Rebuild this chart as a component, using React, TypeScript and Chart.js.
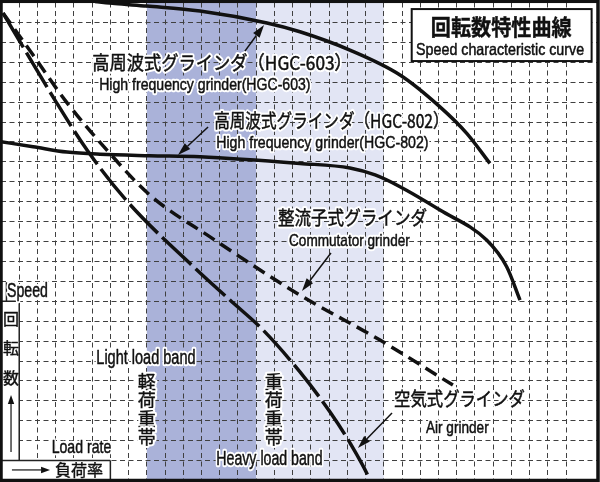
import { useEffect, useRef } from "react";
import { Chart, registerables } from "chart.js";

Chart.register(...registerables);

// ---- data (x: load rate in grid units, y: speed in grid units) ----
const hgc603X = [5.16, 6.25, 8.01, 10.92, 14.59, 16.4, 19.14, 21.89, 24.08, 25.55, 26.82];
const hgc603Y = [24.05, 23.95, 23.82, 23.57, 22.97, 22.53, 21.61, 20.36, 18.76, 17.43, 15.92];

const hgc802X = [0, 1.76, 3.62, 5.43, 8.17, 10.92, 16.4, 19.14, 20.52, 21.89, 24.08, 26.64, 27.74, 28.47];
const hgc802Y = [17.01, 16.76, 16.49, 16.38, 16.31, 16.26, 15.92, 15.69, 15.34, 14.75, 13.58, 12.07, 10.73, 9.06];

const commX = [0.11, 1.76, 3.51, 5.81, 8.17, 11.57, 16.4, 20.79, 24.79];
const commY = [23.47, 21.36, 19.1, 16.59, 14.33, 12.17, 9.31, 7.05, 4.79];

const airX = [0.11, 2.96, 4.72, 6.86, 10.75, 12.56, 14.37, 16.4, 18.05, 19.15, 20.24, 20.46];
const airY = [23.47, 19.1, 16.59, 14.08, 10.57, 9.06, 7.56, 5.45, 3.44, 1.88, 0.03, -0.48];

const lightLoadBand = [8, 14];
const heavyLoadBand = [14, 21];

const xMax = 32.75;
const yMax = 24;

const JP = '"Noto Sans CJK JP", sans-serif';
const EN = '"Liberation Sans", Arial, sans-serif';

type Label = {
  t: string;
  x0: number;
  x1: number;
  y: number;
  font: string;
  base: CanvasTextBaseline;
  halo: boolean;
  bold: number;
};

const labels: Label[] = [
  { t: "回転数特性曲線", x0: 23.63, x1: 31.31, y: 22.78, font: `bold 22px ${JP}`, base: "middle", halo: false, bold: 0.4 },
  { t: "Speed characteristic curve", x0: 22.77, x1: 31.98, y: 21.36, font: `16.5px ${EN}`, base: "alphabetic", halo: false, bold: 0.5 },
  { t: "高周波式グラインダ（HGC-603）", x0: 5.05, x1: 18.6, y: 20.98, font: `19px ${JP}`, base: "middle", halo: true, bold: 0.5 },
  { t: "High frequency grinder(HGC-603)", x0: 5.43, x1: 16.95, y: 19.6, font: `17px ${EN}`, base: "alphabetic", halo: true, bold: 0.5 },
  { t: "高周波式グラインダ（HGC-802）", x0: 11.74, x1: 23.97, y: 18.05, font: `19px ${JP}`, base: "middle", halo: true, bold: 0.5 },
  { t: "High frequency grinder(HGC-802)", x0: 11.85, x1: 23.42, y: 16.69, font: `17px ${EN}`, base: "alphabetic", halo: true, bold: 0.5 },
  { t: "整流子式グラインダ", x0: 15.19, x1: 23.37, y: 13.2, font: `19px ${JP}`, base: "middle", halo: true, bold: 0.5 },
  { t: "Commutator grinder", x0: 15.8, x1: 22.44, y: 11.75, font: `17px ${EN}`, base: "alphabetic", halo: true, bold: 0.5 },
  { t: "空気式グラインダ", x0: 21.61, x1: 28.74, y: 4.09, font: `19px ${JP}`, base: "middle", halo: true, bold: 0.5 },
  { t: "Air grinder", x0: 23.31, x1: 26.77, y: 2.37, font: `17px ${EN}`, base: "alphabetic", halo: true, bold: 0.5 },
  { t: "Light load band", x0: 5.27, x1: 10.64, y: 5.85, font: `19.5px ${EN}`, base: "alphabetic", halo: true, bold: 0.5 },
  { t: "Heavy load band", x0: 11.85, x1: 17.61, y: 0.78, font: `19.5px ${EN}`, base: "alphabetic", halo: true, bold: 0.5 },
  { t: "Speed", x0: 0.33, x1: 2.54, y: 9.2, font: `19.5px ${EN}`, base: "alphabetic", halo: true, bold: 0.5 },
  { t: "Load rate", x0: 2.82, x1: 6.03, y: 1.4, font: `19px ${EN}`, base: "alphabetic", halo: true, bold: 0.5 },
  { t: "負荷率", x0: 2.96, x1: 5.6, y: 0.53, font: `16px ${JP}`, base: "middle", halo: false, bold: 0.4 },
];

type VLabel = { chars: string[]; x: number; ys: number[]; font: string; halo: boolean };
const vLabels: VLabel[] = [
  { chars: ["軽", "荷", "重", "帯"], x: 7.99, ys: [4.96, 4.04, 3.1, 2.16], font: `18px ${JP}`, halo: true },
  { chars: ["重", "荷", "重", "帯"], x: 14.96, ys: [4.96, 4.04, 3.1, 2.16], font: `18px ${JP}`, halo: true },
  { chars: ["回", "転", "数"], x: 0.55, ys: [8.13, 6.68, 5.17], font: `16px ${JP}`, halo: false },
];

// arrows: [tailX, tailY, tipX, tipY]
const arrows = [
  [13.38, 21.56, 14.43, 22.87],
  [11.36, 17.75, 9.71, 16.34],
  [18.1, 11.42, 16.51, 9.51],
  [21.45, 3.39, 19.58, 1.63],
];

const toPts = (xs: number[], ys: number[]) => xs.map((x, i) => ({ x, y: ys[i] }));

function fitText(
  ctx: CanvasRenderingContext2D,
  text: string,
  px0: number,
  px1: number,
  py: number,
  font: string,
  base: CanvasTextBaseline,
  halo: boolean,
  bold: number
) {
  ctx.save();
  ctx.font = font;
  ctx.textBaseline = base;
  ctx.textAlign = "left";
  const m = ctx.measureText(text);
  const inkW = m.actualBoundingBoxLeft + m.actualBoundingBoxRight;
  const s = (px1 - px0) / inkW;
  ctx.translate(px0, py);
  ctx.scale(s, 1);
  ctx.translate(m.actualBoundingBoxLeft, 0);
  ctx.lineJoin = "round";
  if (halo) {
    ctx.lineWidth = 4.5;
    ctx.strokeStyle = "#fff";
    ctx.strokeText(text, 0, 0);
  }
  ctx.fillStyle = "#111";
  ctx.fillText(text, 0, 0);
  if (bold > 0) {
    ctx.lineWidth = bold;
    ctx.strokeStyle = "#111";
    ctx.strokeText(text, 0, 0);
  }
  ctx.restore();
}

function drawArrow(
  ctx: CanvasRenderingContext2D,
  x1: number,
  y1: number,
  x2: number,
  y2: number,
  head: number,
  hw: number,
  lw: number
) {
  const a = Math.atan2(y2 - y1, x2 - x1);
  const bx = x2 - head * Math.cos(a);
  const by = y2 - head * Math.sin(a);
  ctx.save();
  ctx.strokeStyle = "#111";
  ctx.fillStyle = "#111";
  ctx.lineWidth = lw;
  ctx.beginPath();
  ctx.moveTo(x1, y1);
  ctx.lineTo(bx, by);
  ctx.stroke();
  ctx.beginPath();
  ctx.moveTo(x2, y2);
  ctx.lineTo(bx + hw * Math.sin(a), by - hw * Math.cos(a));
  ctx.lineTo(bx - hw * Math.sin(a), by + hw * Math.cos(a));
  ctx.closePath();
  ctx.fill();
  ctx.restore();
}

const decor = {
  id: "decor",
  beforeDraw(chart: any) {
    const { ctx, chartArea, scales } = chart;
    const xs = scales.x;
    ctx.save();
    ctx.fillStyle = "#fff";
    ctx.fillRect(0, 0, chart.width, chart.height);
    ctx.fillStyle = "#aab2d9";
    const a0 = xs.getPixelForValue(lightLoadBand[0]);
    const a1 = xs.getPixelForValue(lightLoadBand[1]);
    ctx.fillRect(a0, chartArea.top, a1 - a0, chartArea.bottom - chartArea.top);
    ctx.fillStyle = "#e2e5f4";
    const b0 = xs.getPixelForValue(heavyLoadBand[0]);
    const b1 = xs.getPixelForValue(heavyLoadBand[1]);
    ctx.fillRect(b0, chartArea.top, b1 - b0, chartArea.bottom - chartArea.top);
    ctx.restore();
  },
  afterDraw(chart: any) {
    const { ctx, chartArea, scales } = chart;
    const X = (v: number) => scales.x.getPixelForValue(v);
    const Y = (v: number) => scales.y.getPixelForValue(v);

    // axis label strips
    ctx.save();
    ctx.fillStyle = "#fff";
    ctx.fillRect(X(0), Y(9), X(1) - X(0), Y(1) - Y(9));
    ctx.fillRect(X(0), Y(1), X(6) - X(0), Y(0) - Y(1));
    ctx.strokeStyle = "#222";
    ctx.lineWidth = 1.5;
    ctx.beginPath();
    ctx.moveTo(X(1), Y(1));
    ctx.lineTo(X(1), Y(9));
    ctx.moveTo(X(0), Y(9));
    ctx.lineTo(X(1), Y(9));
    ctx.moveTo(X(0), Y(1));
    ctx.lineTo(X(6), Y(1));
    ctx.moveTo(X(6), Y(0));
    ctx.lineTo(X(6), Y(1));
    ctx.moveTo(X(0.3), Y(9));
    ctx.lineTo(X(0.3), Y(9.95));
    ctx.stroke();
    ctx.restore();
    drawArrow(ctx, X(0.55), Y(1.43), X(0.55), Y(4.29), 9, 3.2, 1.2);
    drawArrow(ctx, X(0.6), Y(0.53), X(2.69), Y(0.53), 9, 3.2, 1.2);

    // title box
    ctx.save();
    ctx.fillStyle = "#fff";
    ctx.strokeStyle = "#111";
    ctx.lineWidth = 2;
    ctx.fillRect(X(22.53), Y(23.67), X(32.4) - X(22.53), Y(21.06) - Y(23.67));
    ctx.strokeRect(X(22.53), Y(23.67), X(32.4) - X(22.53), Y(21.06) - Y(23.67));
    ctx.restore();

    for (const l of labels) {
      fitText(ctx, l.t, X(l.x0), X(l.x1), Y(l.y), l.font, l.base, l.halo, l.bold);
    }
    for (const v of vLabels) {
      ctx.save();
      ctx.font = v.font;
      ctx.textAlign = "center";
      ctx.textBaseline = "middle";
      ctx.lineJoin = "round";
      v.chars.forEach((c, i) => {
        if (v.halo) {
          ctx.lineWidth = 4.5;
          ctx.strokeStyle = "#fff";
          ctx.strokeText(c, X(v.x), Y(v.ys[i]));
        }
        ctx.fillStyle = "#111";
        ctx.fillText(c, X(v.x), Y(v.ys[i]));
        ctx.lineWidth = 0.4;
        ctx.strokeStyle = "#111";
        ctx.strokeText(c, X(v.x), Y(v.ys[i]));
      });
      ctx.restore();
    }
    for (const a of arrows) {
      drawArrow(ctx, X(a[0]), Y(a[1]), X(a[2]), Y(a[3]), 13, 4, 1.5);
    }

    // frame
    ctx.save();
    ctx.strokeStyle = "#111";
    ctx.lineWidth = 3.5;
    ctx.strokeRect(chartArea.left, chartArea.top - 1.2, chartArea.right - chartArea.left, chartArea.bottom - chartArea.top + 1.2);
    ctx.restore();
  },
};

export default function App() {
  const ref = useRef<HTMLCanvasElement>(null);
  useEffect(() => {
    document.body.style.margin = "0";
    const canvas = ref.current!;
    const lineBase = {
      borderColor: "#111",
      borderWidth: 3.5,
      pointRadius: 0,
      cubicInterpolationMode: "monotone" as const,
      fill: false,
    };
    const gridOpts = { color: "#404040", lineWidth: 1, drawTicks: false };
    const chart = new Chart(canvas, {
      type: "line",
      data: {
        datasets: [
          { ...lineBase, label: "HGC-603", data: toPts(hgc603X, hgc603Y) },
          { ...lineBase, label: "HGC-802", data: toPts(hgc802X, hgc802Y) },
          { ...lineBase, label: "Commutator grinder", data: toPts(commX, commY), borderDash: [13, 7] },
          { ...lineBase, label: "Air grinder", data: toPts(airX, airY), borderDash: [40, 6] },
        ],
      },
      options: {
        animation: false,
        responsive: false,
        events: [],
        layout: { padding: { left: 1, top: 2.5, right: 2, bottom: 1.5 } },
        plugins: { legend: { display: false }, tooltip: { enabled: false } },
        scales: {
          x: {
            type: "linear",
            min: 0,
            max: xMax,
            ticks: { display: false, stepSize: 1 },
            grid: gridOpts,
            border: { display: false, dash: [5, 3.5] },
          },
          y: {
            type: "linear",
            min: 0,
            max: yMax,
            ticks: { display: false, stepSize: 1 },
            grid: gridOpts,
            border: { display: false, dash: [5, 3.5] },
          },
        },
      },
      plugins: [decor],
    });
    return () => chart.destroy();
  }, []);
  return (
    <div style={{ width: 600, height: 482 }}>
      <canvas ref={ref} width={600} height={482} style={{ display: "block" }} />
    </div>
  );
}
